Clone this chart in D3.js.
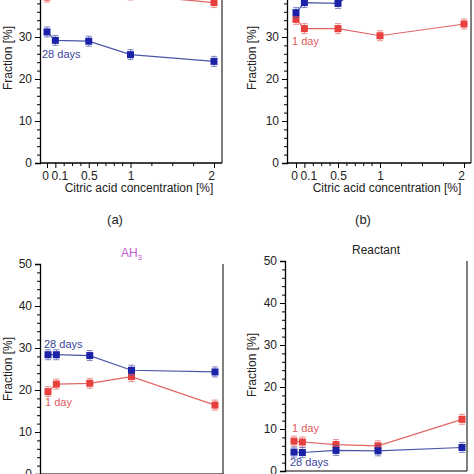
<!DOCTYPE html>
<html><head><meta charset="utf-8">
<script src="https://cdn.jsdelivr.net/npm/d3@7"></script>
<style>body{margin:0;background:#fff}svg{display:block;font-family:"Liberation Sans",Arial,sans-serif}</style>
</head><body><svg id="c" width="474" height="474"></svg>
<script>
const conc = [0, 0.1, 0.5, 1, 2];
const xTicks = [0, 0.1, 0.5, 1, 2];
const xMinor = [0.2, 0.3, 0.4, 0.6, 0.7, 0.8, 0.9, 1.25, 1.5, 1.75];
const yTicks = [0, 10, 20, 30, 40, 50];

const aDay1 = [39.5, 40.5, 41, 40, 38.2];
const aDay28 = [31.2, 29.2, 29.0, 25.8, 24.2];
const bDay1 = [34.2, 32.0, 32.0, 30.3, 33.1];
const bDay28 = [35.8, 38.2, 38.0, 45, 44];
const cDay1 = [19.6, 21.4, 21.6, 23.2, 16.4];
const cDay28 = [28.4, 28.4, 28.2, 24.7, 24.3];
const dDay1 = [7.1, 6.9, 6.3, 6.0, 12.3];
const dDay28 = [4.5, 4.4, 4.9, 4.8, 5.6];

const RED = "#e8403c", BLUE = "#1c22a8";
const svg = d3.select("#c");

const panels = [
  {l: 40, r: 222, y0: 163, x0: 47, x2: 214, d1: aDay1, d28: aDay28, axis: true, tag: "(a)",
   ty: [12, 58], lab28: [42, 58], lab1: null},
  {l: 287, r: 471, y0: 163, x0: 296, x2: 464, d1: bDay1, d28: bDay28, axis: true, tag: "(b)",
   ty: [256, 58], lab1: [292, 45], lab28: null},
  {l: 40, r: 223, y0: 474, x0: 48, x2: 215, d1: cDay1, d28: cDay28, title: "AH", sub: "3",
   ty: [12, 369], lab28: [44, 348], lab1: [45, 406]},
  {l: 285, r: 467, y0: 471, x0: 294, x2: 462, d1: dDay1, d28: dDay28, title: "Reactant",
   ty: [256, 365], lab1: [292, 432], lab28: [290, 466]}
];

panels.forEach(p => {
  const g = svg.append("g");
  const x = d3.scaleLinear().domain([0, 2]).range([p.x0, p.x2]);
  const y = d3.scaleLinear().domain([0, 50]).range([p.y0, p.y0 - 210]);
  const top = y(50);

  g.append("line").attr("x1", p.r).attr("x2", p.r).attr("y1", top).attr("y2", p.y0)
    .attr("stroke", "#555").attr("stroke-width", 1.5);

  const ya = g.append("g").attr("transform", `translate(${p.l},0)`)
    .call(d3.axisLeft(y).tickValues(yTicks).tickSize(5).tickFormat(d3.format("d")));
  ya.select(".domain").attr("stroke-width", 1.3);
  ya.selectAll("text").attr("font-size", 12).attr("fill", "#222");
  const yMinor = d3.range(0, 51, 2).filter(v => v % 10);
  g.append("g").attr("transform", `translate(${p.l},0)`)
    .call(d3.axisLeft(y).tickValues(yMinor).tickSize(3).tickFormat(""))
    .select(".domain").remove();

  g.append("text").attr("transform", `translate(${p.ty[0]},${p.ty[1]}) rotate(-90)`)
    .attr("text-anchor", "middle").attr("font-size", 12).attr("fill", "#222").text("Fraction [%]");

  if (p.axis) {
    const xa = g.append("g").attr("transform", `translate(0,${p.y0})`)
      .call(d3.axisBottom(x).tickValues(xTicks).tickSize(5).tickFormat(d => d === 0 ? "0" : d));
    xa.select(".domain").attr("d", `M${p.l},0H${p.r}`).attr("stroke-width", 1.3);
    xa.selectAll("text").attr("font-size", 12).attr("fill", "#222")
      .attr("dx", d => d === 0 ? -2 : d === 0.1 ? 4 : d === 2 ? -3 : 0);
    g.append("g").attr("transform", `translate(0,${p.y0})`)
      .call(d3.axisBottom(x).tickValues(xMinor).tickSize(3).tickFormat(""))
      .select(".domain").remove();
    g.append("text").attr("x", (p.l + p.r) / 2 + 8).attr("y", p.y0 + 29).attr("text-anchor", "middle")
      .attr("font-size", 12).attr("fill", "#222").text("Citric acid concentration [%]");
    g.append("text").attr("x", (p.l + p.r) / 2 - 16).attr("y", p.y0 + 61).attr("text-anchor", "middle")
      .attr("font-size", 13).attr("fill", "#222").text(p.tag);
  } else {
    g.append("line").attr("x1", p.l).attr("x2", p.r).attr("y1", p.y0).attr("y2", p.y0).attr("stroke", "#000");
  }

  if (p.title) {
    const t = g.append("text").attr("x", (p.l + p.r) / 2).attr("y", top - 7).attr("text-anchor", "middle")
      .attr("font-size", 12).attr("fill", p.sub ? "#c05ed0" : "#222").text(p.title);
    if (p.sub) t.append("tspan").attr("font-size", 8).attr("dy", 3).text(p.sub);
  }

  const line = d3.line().x((d, i) => x(conc[i])).y(d => y(d));
  [[p.d1, RED, "#e06666"], [p.d28, BLUE, "#4a55a8"]].forEach(([vals, c, lc]) => {
    g.append("path").datum(vals).attr("d", line).attr("fill", "none").attr("stroke", lc).attr("stroke-width", 1.2);
    vals.forEach((v, i) => {
      const cx = x(conc[i]), cy = y(v);
      g.append("path").attr("d", `M${cx - 3},${cy - 5}H${cx + 3}M${cx},${cy - 5}V${cy + 5}M${cx - 3},${cy + 5}H${cx + 3}`)
        .attr("stroke", lc).attr("stroke-width", 1).attr("opacity", 0.7);
      g.append("rect").attr("x", cx - 3.5).attr("y", cy - 3.5).attr("width", 7).attr("height", 7).attr("fill", c);
    });
  });
  if (p.lab28) g.append("text").attr("x", p.lab28[0]).attr("y", p.lab28[1]).attr("font-size", 11)
    .attr("fill", "#3a44a0").text("28 days");
  if (p.lab1) g.append("text").attr("x", p.lab1[0]).attr("y", p.lab1[1]).attr("font-size", 11)
    .attr("fill", "#e05a5a").text("1 day");
});
</script></body></html>
